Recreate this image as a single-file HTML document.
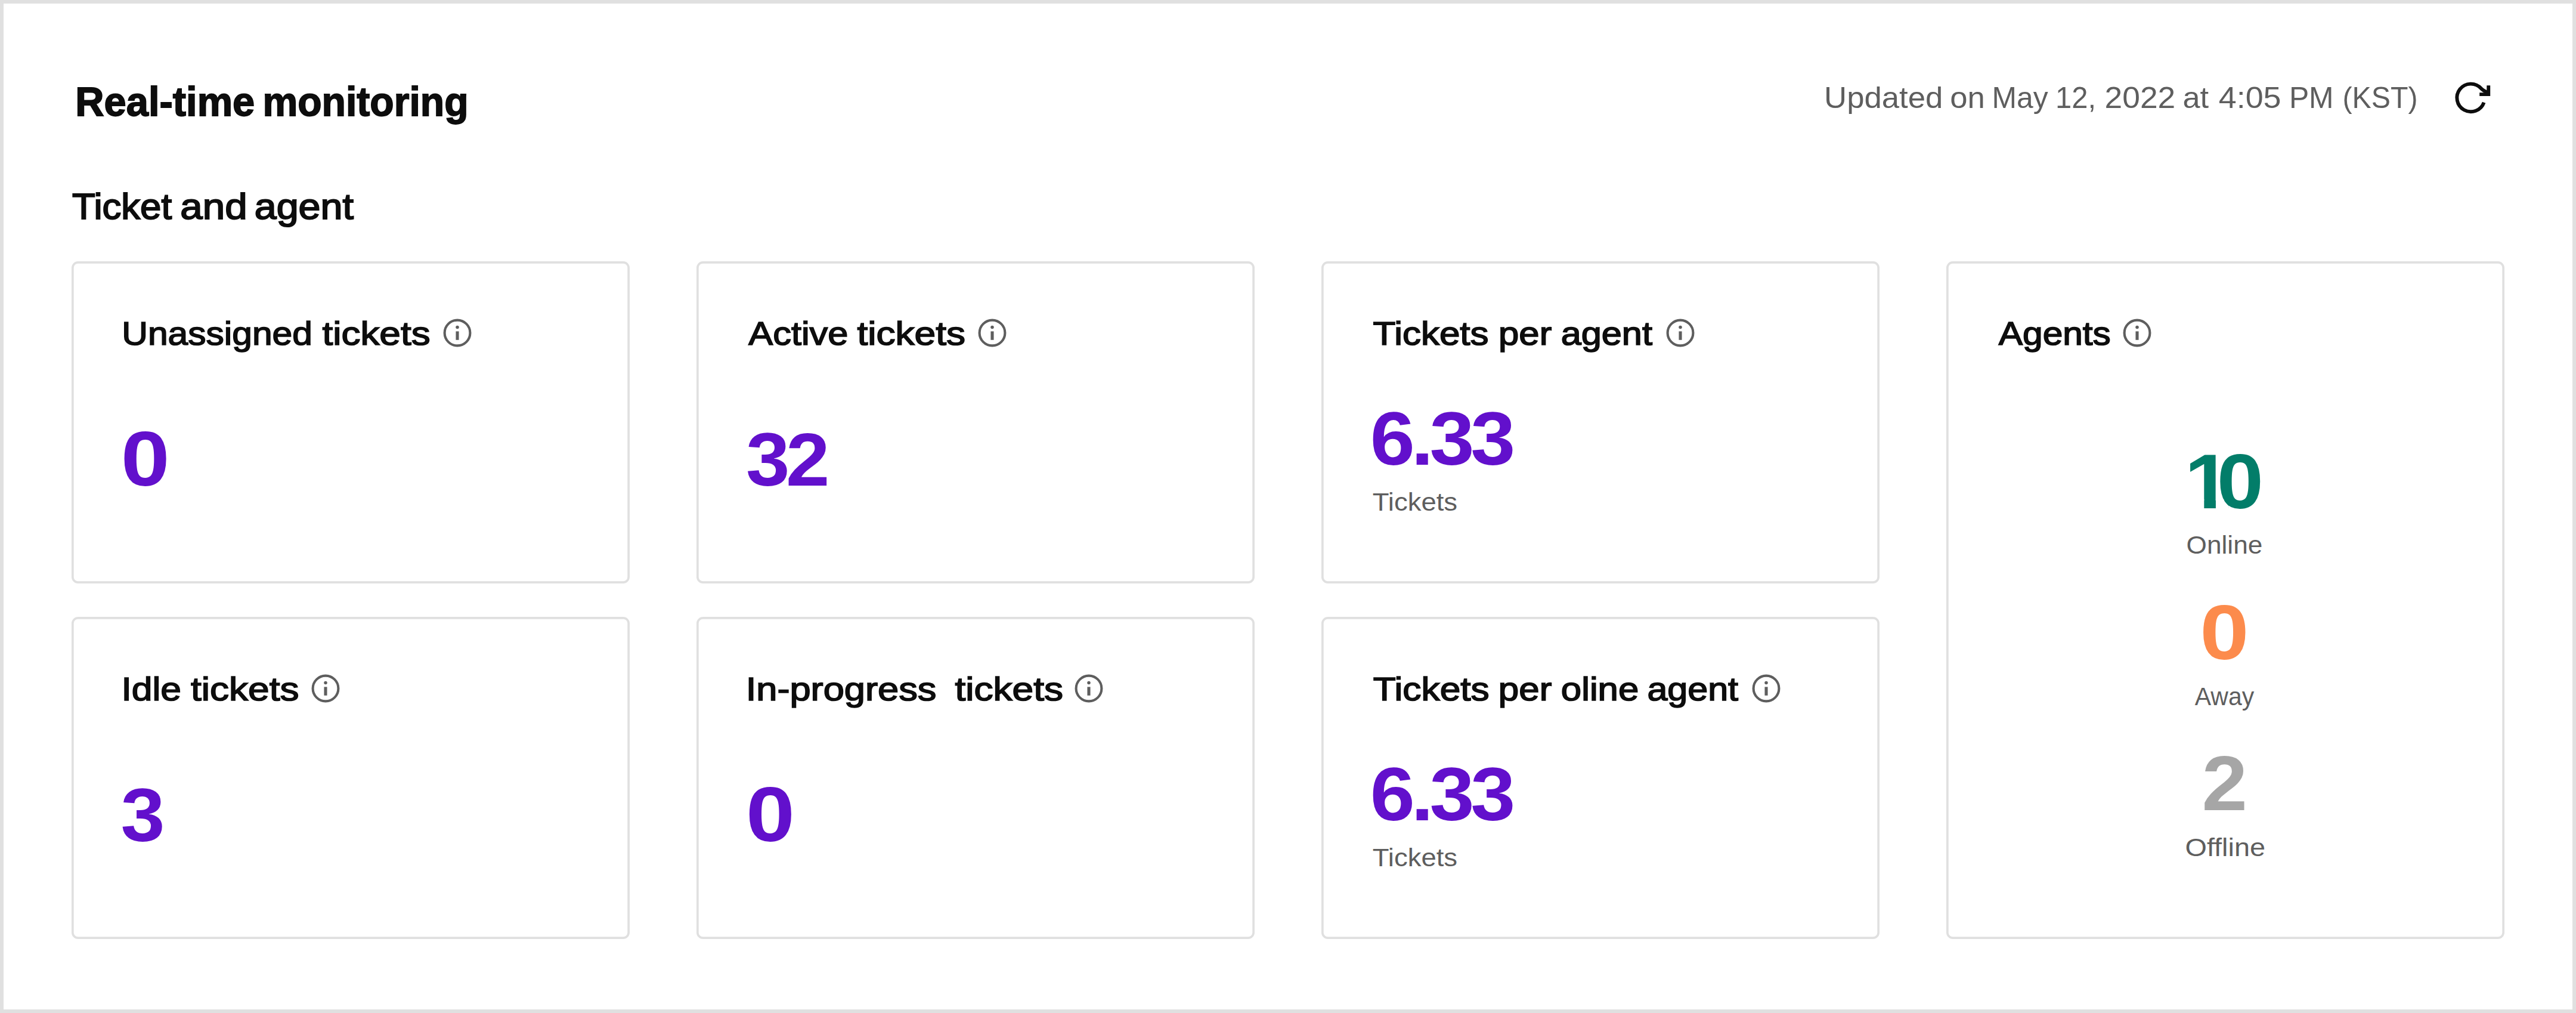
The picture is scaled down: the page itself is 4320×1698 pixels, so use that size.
<!DOCTYPE html>
<html lang="en">
<head>
<meta charset="utf-8">
<title>Real-time monitoring</title>
<style>
html,body{margin:0;padding:0;background:#fff;}
body{width:4320px;height:1698px;position:relative;overflow:hidden;font-family:"Liberation Sans", Arial, Helvetica, sans-serif;}
.frame{position:absolute;left:0;top:0;width:4308px;height:1686px;border:6px solid #e0e0e0;}
.ln{position:absolute;left:0;top:0;margin:0;padding:0;white-space:pre;line-height:1;font-weight:400;}
.ln span{display:inline-block;position:relative;white-space:pre;line-height:1;transform-origin:0 0;}
.ico{position:absolute;overflow:visible;}
#title{top:136px;font-size:69.30px;font-weight:700;color:#0d0d0d;-webkit-text-stroke:1.80px #0d0d0d;}
#sub{top:316px;font-size:60.32px;font-weight:400;color:#0d0d0d;-webkit-text-stroke:2.00px #0d0d0d;}
#upd{top:139px;font-size:50.58px;font-weight:400;color:#5e5e5e;}
#c1t{top:532px;font-size:55.40px;font-weight:400;color:#0d0d0d;-webkit-text-stroke:1.70px #0d0d0d;}
#c2t{top:532px;font-size:55.40px;font-weight:400;color:#0d0d0d;-webkit-text-stroke:1.70px #0d0d0d;}
#c3t{top:532px;font-size:55.40px;font-weight:400;color:#0d0d0d;-webkit-text-stroke:1.70px #0d0d0d;}
#c4t{top:532px;font-size:55.40px;font-weight:400;color:#0d0d0d;-webkit-text-stroke:1.70px #0d0d0d;}
#c5t{top:1128px;font-size:55.40px;font-weight:400;color:#0d0d0d;-webkit-text-stroke:1.70px #0d0d0d;}
#c6t{top:1128px;font-size:55.40px;font-weight:400;color:#0d0d0d;-webkit-text-stroke:1.70px #0d0d0d;}
#c7t{top:1128px;font-size:55.40px;font-weight:400;color:#0d0d0d;-webkit-text-stroke:1.70px #0d0d0d;}
#n1{top:705px;font-size:129.00px;font-weight:700;color:#6210cc;}
#n2{top:707px;font-size:126.50px;font-weight:700;color:#6210cc;}
#n3{top:672px;font-size:127.00px;font-weight:700;color:#6210cc;}
#n5{top:1304px;font-size:126.00px;font-weight:700;color:#6210cc;}
#n6{top:1301px;font-size:129.00px;font-weight:700;color:#6210cc;}
#n7{top:1268px;font-size:127.00px;font-weight:700;color:#6210cc;}
#s3{top:820px;font-size:43.00px;font-weight:400;color:#5e5e5e;}
#s7{top:1416px;font-size:43.00px;font-weight:400;color:#5e5e5e;}
#a1{top:743px;font-size:129.00px;font-weight:700;color:#027d69;}
#a2{top:996px;font-size:129.00px;font-weight:700;color:#fc8b4c;}
#a3{top:1249px;font-size:129.00px;font-weight:700;color:#a6a6a6;}
#l1{top:892px;font-size:43.00px;font-weight:400;color:#5e5e5e;}
#l2{top:1146px;font-size:43.00px;font-weight:400;color:#5e5e5e;}
#l3{top:1399px;font-size:43.00px;font-weight:400;color:#5e5e5e;}
#title_0{left:126px;transform:translateX(0.20px) scaleX(0.9653);}
#title_1{left:109px;transform:translateX(0.40px) scaleX(0.9540);}
#sub_0{left:120px;transform:translateX(1.00px) scaleX(1.0534);}
#sub_1{left:127px;transform:translateX(0.35px) scaleX(1.1149);}
#sub_2{left:133px;transform:translateX(0.72px) scaleX(1.1005);}
#upd_0{left:3059px;transform:translateX(0.07px) scaleX(1.0419);}
#upd_1{left:3065px;transform:translateX(0.28px) scaleX(1.0412);}
#upd_2{left:3064px;transform:translateX(0.56px) scaleX(0.9845);}
#upd_3{left:3061px;transform:translateX(0.98px) scaleX(0.9674);}
#upd_4{left:3059px;transform:translateX(0.60px) scaleX(1.0546);}
#upd_5{left:3064px;transform:translateX(0.46px) scaleX(1.0358);}
#upd_6{left:3068px;transform:translateX(0.81px) scaleX(1.0640);}
#upd_7{left:3073px;transform:translateX(0.88px) scaleX(0.9844);}
#upd_8{left:3073px;transform:translateX(0.55px) scaleX(0.9544);}
#c1t_0{left:204px;transform:translateX(0.24px) scaleX(1.0928);}
#c1t_1{left:232px;transform:translateX(0.50px) scaleX(1.1538);}
#c2t_0{left:1255px;transform:translateX(0.36px) scaleX(1.1072);}
#c2t_1{left:1271px;transform:translateX(0.39px) scaleX(1.1568);}
#c3t_0{left:2302px;transform:translateX(0.58px) scaleX(1.1189);}
#c3t_1{left:2324px;transform:translateX(0.10px) scaleX(1.1123);}
#c3t_2{left:2333px;transform:translateX(0.69px) scaleX(1.1056);}
#c4t_0{left:3351px;transform:translateX(0.78px) scaleX(1.0902);}
#c5t_0{left:203px;transform:translateX(0.48px) scaleX(1.1256);}
#c5t_1{left:215px;transform:translateX(0.05px) scaleX(1.1557);}
#c6t_0{left:1250px;transform:translateX(0.64px) scaleX(1.1417);}
#c6t_2{left:1290px;transform:translateX(0.39px) scaleX(1.1571);}
#c7t_0{left:2302px;transform:translateX(0.81px) scaleX(1.1241);}
#c7t_1{left:2323px;transform:translateX(0.87px) scaleX(1.1162);}
#c7t_2{left:2333px;transform:translateX(0.87px) scaleX(1.1137);}
#c7t_3{left:2345px;transform:translateX(0.40px) scaleX(1.1011);}
#n1_0{left:202px;transform:translateX(0.71px) scaleX(1.1414);}
#n2_0{left:1250px;transform:translateX(0.89px) scaleX(1.0443);letter-spacing:-6px;}
#n3_0{left:2297px;transform:translateX(0.72px) scaleX(1.0629);letter-spacing:-6px;}
#n5_0{left:202px;transform:translateX(0.46px) scaleX(1.0569);}
#n6_0{left:1250px;transform:translateX(0.95px) scaleX(1.1420);}
#n7_0{left:2297px;transform:translateX(0.72px) scaleX(1.0629);letter-spacing:-6px;}
#s3_0{left:2301px;transform:translateX(0.68px) scaleX(1.0582);}
#s7_0{left:2301px;transform:translateX(0.68px) scaleX(1.0582);}
#a1_0{left:3663px;transform:translateX(0.62px) scaleX(1.0895);letter-spacing:-22px;clip-path:polygon(0 0,200px 0,200px 129px,68.2px 129px,68.2px 105.2px,67.6px 104.5px,65.7px 102.5px,64.1px 100.5px,62.5px 98.5px,61.3px 96.5px,60.2px 94.5px,60px 94px,48px 94px,48px 129px,30px 129px,30px 94px,0 94px);}
#a2_0{left:3689px;transform:translateX(0.13px) scaleX(1.1469);}
#a3_0{left:3692px;transform:translateX(0.62px) scaleX(1.0665);}
#l1_0{left:3666px;transform:translateX(0.61px) scaleX(1.0273);}
#l2_0{left:3680px;transform:translateX(0.76px) scaleX(0.9525);}
#l3_0{left:3664px;transform:translateX(0.50px) scaleX(1.0892);}
</style>
</head>
<body>
<div class="frame"></div>
<header>
<h1 class="ln" id="title"><span id="title_0">Real-time</span> <span id="title_1">monitoring</span></h1>
<div class="ln" id="upd"><span id="upd_0">Updated</span> <span id="upd_1">on</span> <span id="upd_2">May</span> <span id="upd_3">12,</span> <span id="upd_4">2022</span> <span id="upd_5">at</span> <span id="upd_6">4:05</span> <span id="upd_7">PM</span> <span id="upd_8">(KST)</span></div>
<svg class="ico" style="left:4100px;top:120px" width="100" height="90" viewBox="4100 120 100 90"><path d="M4171.5 154.9 Q4164.2 151.6 4160.97 148.31 A23.30 23.30 0 1 0 4165.61 171.68" fill="none" stroke="#0d0d0d" stroke-width="5.9" stroke-linejoin="round"/><path d="M4170.3 143.3 H4176.2 V160.9 H4158.2 V155.3 H4170.3 Z" fill="#0d0d0d"/></svg>
</header>
<main>
<h2 class="ln" id="sub"><span id="sub_0">Ticket</span> <span id="sub_1">and</span> <span id="sub_2">agent</span></h2>
<section>
<svg class="ico" style="left:120px;top:438px" width="936" height="540" viewBox="0 0 936 540"><rect x="1.85" y="1.85" width="932.3" height="536.3" rx="9" ry="9" fill="#ffffff" stroke="#e0e0e0" stroke-width="3.7"/></svg>
<h3 class="ln" id="c1t"><span id="c1t_0">Unassigned</span> <span id="c1t_1">tickets</span></h3>
<svg class="ico" style="left:741.1px;top:531.6px" width="52" height="52" viewBox="-26 -26 52 52"><circle cx="0" cy="0" r="21.4" fill="none" stroke="#5e5e5e" stroke-width="4.1"/><circle cx="0" cy="-9.4" r="2.75" fill="#5e5e5e"/><rect x="-2.55" y="-2.6" width="5.1" height="14.4" fill="#5e5e5e"/></svg>
<div class="ln" id="n1"><span id="n1_0">0</span></div>
</section>
<section>
<svg class="ico" style="left:1168px;top:438px" width="936" height="540" viewBox="0 0 936 540"><rect x="1.85" y="1.85" width="932.3" height="536.3" rx="9" ry="9" fill="#ffffff" stroke="#e0e0e0" stroke-width="3.7"/></svg>
<h3 class="ln" id="c2t"><span id="c2t_0">Active</span> <span id="c2t_1">tickets</span></h3>
<svg class="ico" style="left:1637.9px;top:531.6px" width="52" height="52" viewBox="-26 -26 52 52"><circle cx="0" cy="0" r="21.4" fill="none" stroke="#5e5e5e" stroke-width="4.1"/><circle cx="0" cy="-9.4" r="2.75" fill="#5e5e5e"/><rect x="-2.55" y="-2.6" width="5.1" height="14.4" fill="#5e5e5e"/></svg>
<div class="ln" id="n2"><span id="n2_0">32</span></div>
</section>
<section>
<svg class="ico" style="left:2216px;top:438px" width="936" height="540" viewBox="0 0 936 540"><rect x="1.85" y="1.85" width="932.3" height="536.3" rx="9" ry="9" fill="#ffffff" stroke="#e0e0e0" stroke-width="3.7"/></svg>
<h3 class="ln" id="c3t"><span id="c3t_0">Tickets</span> <span id="c3t_1">per</span> <span id="c3t_2">agent</span></h3>
<svg class="ico" style="left:2791.7px;top:531.6px" width="52" height="52" viewBox="-26 -26 52 52"><circle cx="0" cy="0" r="21.4" fill="none" stroke="#5e5e5e" stroke-width="4.1"/><circle cx="0" cy="-9.4" r="2.75" fill="#5e5e5e"/><rect x="-2.55" y="-2.6" width="5.1" height="14.4" fill="#5e5e5e"/></svg>
<div class="ln" id="n3"><span id="n3_0">6.33</span></div>
<div class="ln" id="s3"><span id="s3_0">Tickets</span></div>
</section>
<section>
<svg class="ico" style="left:3264px;top:438px" width="936" height="1136" viewBox="0 0 936 1136"><rect x="1.85" y="1.85" width="932.3" height="1132.3" rx="9" ry="9" fill="#ffffff" stroke="#e0e0e0" stroke-width="3.7"/></svg>
<h3 class="ln" id="c4t"><span id="c4t_0">Agents</span></h3>
<svg class="ico" style="left:3558.1px;top:531.6px" width="52" height="52" viewBox="-26 -26 52 52"><circle cx="0" cy="0" r="21.4" fill="none" stroke="#5e5e5e" stroke-width="4.1"/><circle cx="0" cy="-9.4" r="2.75" fill="#5e5e5e"/><rect x="-2.55" y="-2.6" width="5.1" height="14.4" fill="#5e5e5e"/></svg>
<div class="ln" id="a1"><span id="a1_0">10</span></div>
<div class="ln" id="l1"><span id="l1_0">Online</span></div>
<div class="ln" id="a2"><span id="a2_0">0</span></div>
<div class="ln" id="l2"><span id="l2_0">Away</span></div>
<div class="ln" id="a3"><span id="a3_0">2</span></div>
<div class="ln" id="l3"><span id="l3_0">Offline</span></div>
</section>
<section>
<svg class="ico" style="left:120px;top:1034px" width="936" height="540" viewBox="0 0 936 540"><rect x="1.85" y="1.85" width="932.3" height="536.3" rx="9" ry="9" fill="#ffffff" stroke="#e0e0e0" stroke-width="3.7"/></svg>
<h3 class="ln" id="c5t"><span id="c5t_0">Idle</span> <span id="c5t_1">tickets</span></h3>
<svg class="ico" style="left:519.5px;top:1127.5px" width="52" height="52" viewBox="-26 -26 52 52"><circle cx="0" cy="0" r="21.4" fill="none" stroke="#5e5e5e" stroke-width="4.1"/><circle cx="0" cy="-9.4" r="2.75" fill="#5e5e5e"/><rect x="-2.55" y="-2.6" width="5.1" height="14.4" fill="#5e5e5e"/></svg>
<div class="ln" id="n5"><span id="n5_0">3</span></div>
</section>
<section>
<svg class="ico" style="left:1168px;top:1034px" width="936" height="540" viewBox="0 0 936 540"><rect x="1.85" y="1.85" width="932.3" height="536.3" rx="9" ry="9" fill="#ffffff" stroke="#e0e0e0" stroke-width="3.7"/></svg>
<h3 class="ln" id="c6t"><span id="c6t_0">In-progress</span>  <span id="c6t_2">tickets</span></h3>
<svg class="ico" style="left:1800.2px;top:1127.5px" width="52" height="52" viewBox="-26 -26 52 52"><circle cx="0" cy="0" r="21.4" fill="none" stroke="#5e5e5e" stroke-width="4.1"/><circle cx="0" cy="-9.4" r="2.75" fill="#5e5e5e"/><rect x="-2.55" y="-2.6" width="5.1" height="14.4" fill="#5e5e5e"/></svg>
<div class="ln" id="n6"><span id="n6_0">0</span></div>
</section>
<section>
<svg class="ico" style="left:2216px;top:1034px" width="936" height="540" viewBox="0 0 936 540"><rect x="1.85" y="1.85" width="932.3" height="536.3" rx="9" ry="9" fill="#ffffff" stroke="#e0e0e0" stroke-width="3.7"/></svg>
<h3 class="ln" id="c7t"><span id="c7t_0">Tickets</span> <span id="c7t_1">per</span> <span id="c7t_2">oline</span> <span id="c7t_3">agent</span></h3>
<svg class="ico" style="left:2935.8px;top:1127.5px" width="52" height="52" viewBox="-26 -26 52 52"><circle cx="0" cy="0" r="21.4" fill="none" stroke="#5e5e5e" stroke-width="4.1"/><circle cx="0" cy="-9.4" r="2.75" fill="#5e5e5e"/><rect x="-2.55" y="-2.6" width="5.1" height="14.4" fill="#5e5e5e"/></svg>
<div class="ln" id="n7"><span id="n7_0">6.33</span></div>
<div class="ln" id="s7"><span id="s7_0">Tickets</span></div>
</section>
</main>
</body>
</html>
